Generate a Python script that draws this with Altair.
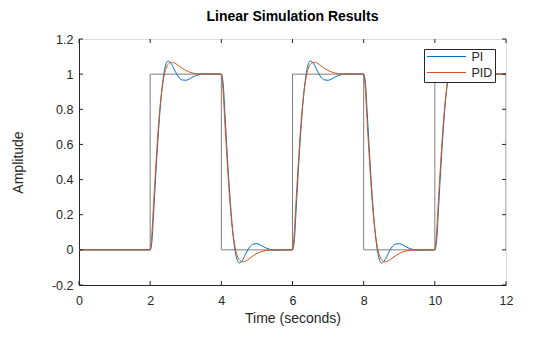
import altair as alt
import pandas as pd

# ---- data ----
time = [0.0,
        2.00, 2.05, 2.10, 2.15, 2.20, 2.25, 2.30, 2.35, 2.40, 2.45, 2.50, 2.60, 2.70, 2.80, 2.90, 3.00, 3.10, 3.20, 3.35, 3.50, 3.75,
        4.00, 4.05, 4.10, 4.15, 4.20, 4.25, 4.30, 4.35, 4.40, 4.45, 4.50, 4.60, 4.70, 4.80, 4.90, 5.00, 5.10, 5.20, 5.35, 5.50, 5.75,
        6.00, 6.05, 6.10, 6.15, 6.20, 6.25, 6.30, 6.35, 6.40, 6.45, 6.50, 6.60, 6.70, 6.80, 6.90, 7.00, 7.10, 7.20, 7.35, 7.50, 7.75,
        8.00, 8.05, 8.10, 8.15, 8.20, 8.25, 8.30, 8.35, 8.40, 8.45, 8.50, 8.60, 8.70, 8.80, 8.90, 9.00, 9.10, 9.20, 9.35, 9.50, 9.75,
        10.00, 10.05, 10.10, 10.15, 10.20, 10.25, 10.30, 10.35, 10.40, 10.45, 10.50, 10.60, 10.70, 10.80, 10.90, 11.00, 11.10, 11.20, 11.35, 11.50, 11.75,
        12.0]

pi_values = [0.0,
             0.0, 0.05, 0.22, 0.40, 0.57, 0.72, 0.85, 0.95, 1.02, 1.06, 1.075, 1.057, 1.017, 0.983, 0.967, 0.965, 0.972, 0.984, 0.996, 1.002, 1.001,
             1.0, 0.95, 0.78, 0.60, 0.43, 0.28, 0.15, 0.05, -0.02, -0.06, -0.075, -0.057, -0.017, 0.017, 0.033, 0.035, 0.028, 0.016, 0.004, -0.002, -0.001,
             0.0, 0.05, 0.22, 0.40, 0.57, 0.72, 0.85, 0.95, 1.02, 1.06, 1.075, 1.057, 1.017, 0.983, 0.967, 0.965, 0.972, 0.984, 0.996, 1.002, 1.001,
             1.0, 0.95, 0.78, 0.60, 0.43, 0.28, 0.15, 0.05, -0.02, -0.06, -0.075, -0.057, -0.017, 0.017, 0.033, 0.035, 0.028, 0.016, 0.004, -0.002, -0.001,
             0.0, 0.05, 0.22, 0.40, 0.57, 0.72, 0.85, 0.95, 1.02, 1.06, 1.075, 1.057, 1.017, 0.983, 0.967, 0.965, 0.972, 0.984, 0.996, 1.002, 1.001,
             1.0]

pid_values = [0.0,
              0.0, 0.10, 0.28, 0.45, 0.61, 0.75, 0.86, 0.94, 1.00, 1.035, 1.055, 1.068, 1.062, 1.048, 1.033, 1.021, 1.012, 1.006, 1.002, 1.0, 1.0,
              1.0, 0.90, 0.72, 0.55, 0.39, 0.25, 0.14, 0.06, 0.0, -0.035, -0.055, -0.068, -0.062, -0.048, -0.033, -0.021, -0.012, -0.006, -0.002, 0.0, 0.0,
              0.0, 0.10, 0.28, 0.45, 0.61, 0.75, 0.86, 0.94, 1.00, 1.035, 1.055, 1.068, 1.062, 1.048, 1.033, 1.021, 1.012, 1.006, 1.002, 1.0, 1.0,
              1.0, 0.90, 0.72, 0.55, 0.39, 0.25, 0.14, 0.06, 0.0, -0.035, -0.055, -0.068, -0.062, -0.048, -0.033, -0.021, -0.012, -0.006, -0.002, 0.0, 0.0,
              0.0, 0.10, 0.28, 0.45, 0.61, 0.75, 0.86, 0.94, 1.00, 1.035, 1.055, 1.068, 1.062, 1.048, 1.033, 1.021, 1.012, 1.006, 1.002, 1.0, 1.0,
              1.0]

input_time = [0, 2, 2, 4, 4, 6, 6, 8, 8, 10, 10, 12, 12]
input_values = [0, 0, 1, 1, 0, 0, 1, 1, 0, 0, 1, 1, 0]

x_ticks = [0, 2, 4, 6, 8, 10, 12]
y_ticks = [-0.2, 0, 0.2, 0.4, 0.6, 0.8, 1.0, 1.2]

series_names = ["PI", "PID"]
series_colors = ["#0072BD", "#D95319"]

# ---- tables ----
resp = pd.DataFrame({"t": time, "PI": pi_values, "PID": pid_values})
resp_long = resp.melt(id_vars="t", var_name="series", value_name="y")
inp = pd.DataFrame({"t": input_time, "y": input_values, "i": list(range(len(input_time)))})
xt = pd.DataFrame({"t": x_ticks})
yt = pd.DataFrame({"y": y_ticks})

W, H = 427, 246
AX = "#262626"
FONT = "Liberation Sans"

xscale = alt.Scale(domain=[0, 12], nice=False, zero=False)
yscale = alt.Scale(domain=[-0.2, 1.2], nice=False, zero=False)

x_axis = alt.Axis(values=x_ticks, title="Time (seconds)", tickSize=0, grid=False,
                  labelPadding=9, titlePadding=5, domainColor=AX, labelColor=AX,
                  titleColor=AX, labelFontSize=12.5, titleFontSize=14, titleFontWeight="normal",
                  labelFont=FONT, titleFont=FONT, labelFlush=False, labelOverlap=False)
y_axis = alt.Axis(values=y_ticks, title="Amplitude", tickSize=0, grid=False,
                  labelPadding=6, titlePadding=26, domainColor=AX, labelColor=AX,
                  titleColor=AX, labelFontSize=12.5, titleFontSize=14, titleFontWeight="normal",
                  labelFont=FONT, titleFont=FONT, labelFlush=False, labelOverlap=False,
                  labelExpr="datum.value < 0 ? '-' + format(-datum.value, '.1~f') : format(datum.value, '.1~f')")

X = alt.X("t:Q", scale=xscale, axis=x_axis, title="Time (seconds)")
Y = alt.Y("y:Q", scale=yscale, axis=y_axis, title="Amplitude")

gray = alt.Chart(inp).mark_line(color="#7f7f7f", strokeWidth=1, clip=True).encode(
    x=X, y=Y, order="i:Q",
)

lines = alt.Chart(resp_long).mark_line(strokeWidth=1, interpolate="monotone", clip=True).encode(
    x=X, y=Y,
    color=alt.Color("series:N", scale=alt.Scale(domain=series_names, range=series_colors),
                    legend=alt.Legend(title=None, orient="none", legendX=345, legendY=10,
                                      symbolType="stroke", symbolSize=1521, symbolStrokeWidth=1,
                                      labelFontSize=12.5, labelFont=FONT, labelColor=AX,
                                      fillColor="white", strokeColor=AX, padding=2.5,
                                      clipHeight=10, rowPadding=3,
                                      labelOffset=5)),
)

bottom_ticks = alt.Chart(xt).mark_rule(color=AX, strokeWidth=1).encode(
    x=X, y=alt.value(H), y2=alt.value(H - 4))
top_ticks = alt.Chart(xt).mark_rule(color=AX, strokeWidth=1).encode(
    x=X, y=alt.value(0), y2=alt.value(4))
left_ticks = alt.Chart(yt).mark_rule(color=AX, strokeWidth=1).encode(
    y=Y, x=alt.value(0), x2=alt.value(4))
right_ticks = alt.Chart(yt).mark_rule(color=AX, strokeWidth=1).encode(
    y=Y, x=alt.value(W), x2=alt.value(W - 4))

chart = alt.layer(gray, lines, bottom_ticks, top_ticks, left_ticks, right_ticks).properties(
    width=W, height=H,
    title=alt.TitleParams("Linear Simulation Results", fontSize=14, fontWeight="bold",
                          font=FONT, color="#000000", offset=9, anchor="middle"),
    autosize=alt.AutoSizeParams(type="none"),
    padding={"left": 79, "top": 39, "right": 54, "bottom": 52},
).configure_view(stroke=AX, strokeWidth=1).configure(background="white")

chart.save("out.html", embed_options={"renderer": "svg", "actions": False})
